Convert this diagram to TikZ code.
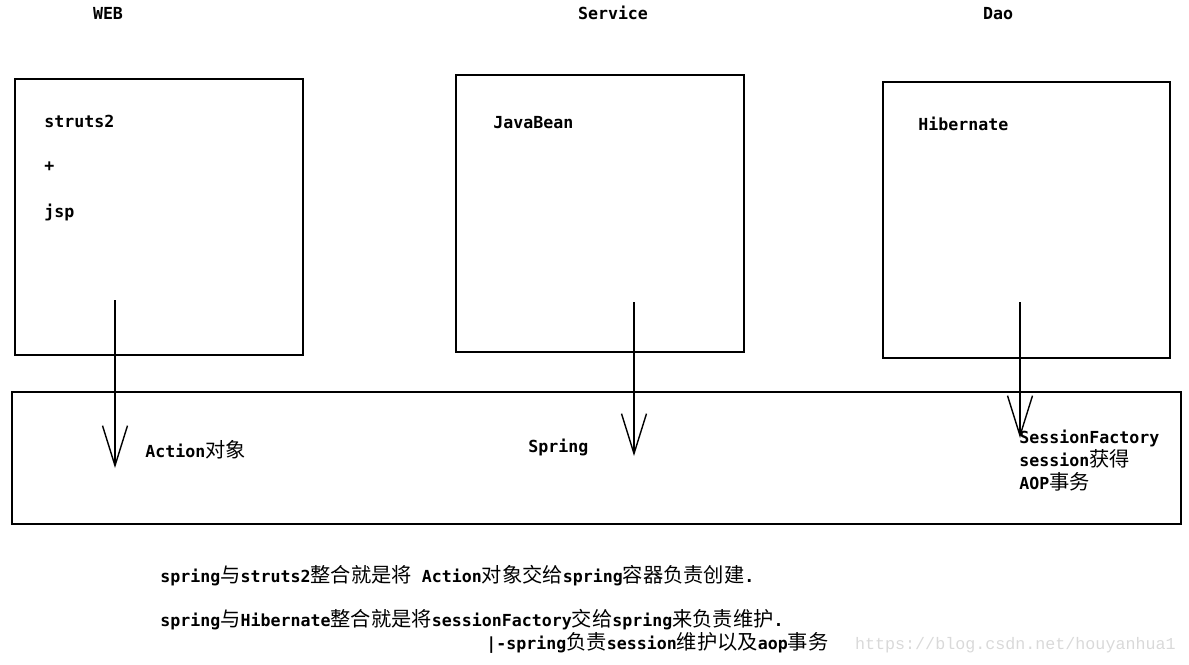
\documentclass[tikz,border=0pt]{standalone}
\usepackage{fontspec}
\setmainfont{DejaVu Sans Mono}
\newfontfamily\cjkfont{Noto Sans CJK SC}[Scale=1.22]
\newfontfamily\urlfont{Liberation Mono}
\newcommand{\zh}[1]{{\cjkfont\mdseries #1}}
\usetikzlibrary{arrows.meta}
\usetikzlibrary{positioning}
\tikzset{
layer/.style={ % Sets the properties for each box
draw,
line width=0.8pt,
inner sep=0pt,
outer sep=0pt},
label text/.style={ % Plain text in the picture
inner sep=0pt,
anchor=base west,
font=\fontsize{9.45}{11}\selectfont\bfseries},
every edge/.style={ % Sets the properties for each arrow
draw,
line width=0.8pt,
-{Straight Barb[length=0.8cm, width=0.5cm]}}}

\begin{document}
\begin{tikzpicture}[x=0.02cm, y=-0.02cm]
	\useasboundingbox (0,0) rectangle (1189,664);
	% layers
	\node[label text, anchor=base] (web) at (108,19) {WEB};
	\node[label text, anchor=base] (service) at (613,19) {Service};
	\node[label text, anchor=base] (dao) at (998,19) {Dao};
	\node[layer, minimum width=5.76cm, minimum height=5.52cm] (webbox) at (159,217) {};
	\node[layer, minimum width=5.76cm, minimum height=5.54cm] (servicebox) at (600,213.5) {};
	\node[layer, minimum width=5.74cm, minimum height=5.52cm] (daobox) at (1026.5,220) {};
	\node[layer, minimum width=23.38cm, minimum height=2.64cm] (springbox) at (596.5,458) {};
	\node[label text] (struts) at (44,127) {struts2};
	\node[label text] (plus) at (44,171) {+};
	\node[label text] (jsp) at (44,217) {jsp};
	\node[label text] (javabean) at (493,128) {JavaBean};
	\node[label text] (hibernate) at (918,130) {Hibernate};
	\node[label text] (action) at (145,457) {Action\zh{对象}};
	\node[label text] (spring) at (528,452) {Spring};
	\node[label text] (factory) at (1019,443) {SessionFactory};
	\node[label text] (session) at (1019,466) {session\zh{获得}};
	\node[label text] (aop) at (1019,489) {AOP\zh{事务}};
	% arrows
	\coordinate (webtop) at (115,300);
	\coordinate (webend) at (115,468);
	\coordinate (servicetop) at (634,302);
	\coordinate (serviceend) at (634,456);
	\coordinate (daotop) at (1020,302);
	\coordinate (daoend) at (1020,438);
	\draw (webtop) edge (webend);
	\draw (servicetop) edge (serviceend);
	\draw (daotop) edge (daoend);
	% notes
	\node[label text] (note1) at (160,582) {spring\zh{与}struts2\zh{整合就是将} Action\zh{对象交给}spring\zh{容器负责创建}.};
	\node[label text] (note2) at (160,626) {spring\zh{与}Hibernate\zh{整合就是将}sessionFactory\zh{交给}spring\zh{来负责维护}.};
	\node[label text] (note3) at (486,649) {|-spring\zh{负责}session\zh{维护以及}aop\zh{事务}};
	\node[inner sep=0pt, anchor=base east, text=black!15, font=\urlfont\fontsize{9.5}{11}\selectfont] (blog) at (1176,649) {https://blog.csdn.net/houyanhua1};
\end{tikzpicture}
\end{document}
